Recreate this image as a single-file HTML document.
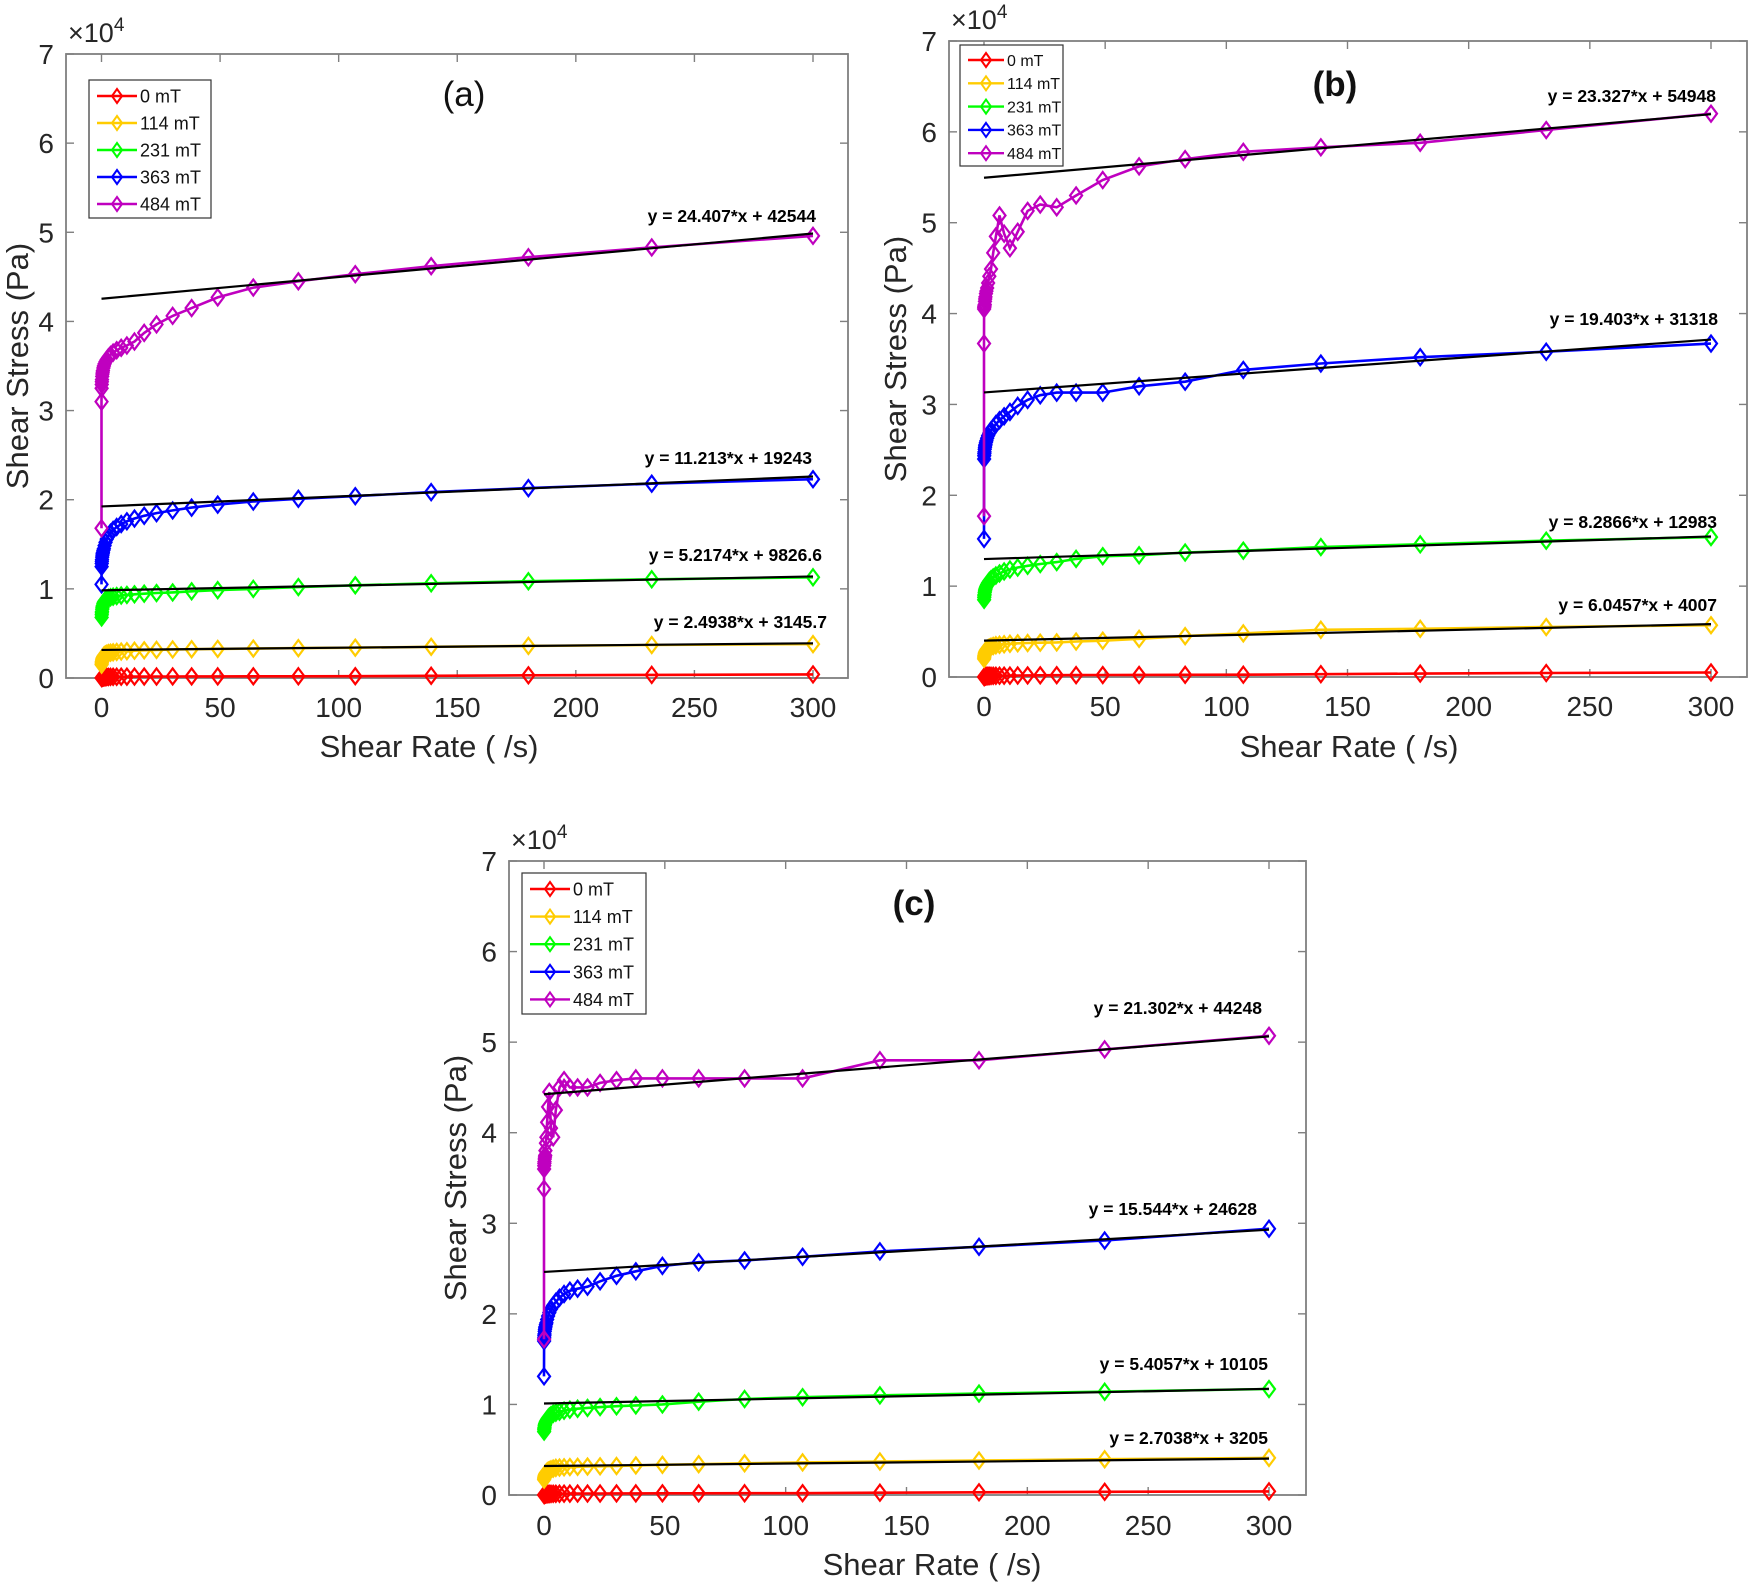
<!DOCTYPE html>
<html><head><meta charset="utf-8">
<style>
html,body{margin:0;padding:0;background:#fff;}
svg{display:block;font-family:"Liberation Sans",Arial,sans-serif;}
</style></head>
<body>
<svg id="s" width="1752" height="1585" viewBox="0 0 1752 1585" xmlns="http://www.w3.org/2000/svg"></svg>
<script>
var NS="http://www.w3.org/2000/svg";
var S=document.getElementById('s');
function el(t,a,p,txt){var e=document.createElementNS(NS,t);for(var k in a)e.setAttribute(k,a[k]);if(txt!==undefined)e.textContent=txt;(p||S).appendChild(e);return e;}
var COL=['#ff0000','#ffcc00','#00ff00','#0000ff','#bf00bf'];
var NAMES=['0 mT','114 mT','231 mT','363 mT','484 mT'];
var XS=[0.05,0.1,0.15,0.2,0.3,0.4,0.5,0.6,0.8,1,1.3,1.7,2.2,2.9,3.8,4.9,6.4,8.3,10.7,13.9,18,23.2,30,38,49,64,83,107,139,180,232,300];
function interp(keys,x){
  var lx=Math.log(x+0.05);
  if(x<=keys[0][0])return keys[0][1];
  for(var i=1;i<keys.length;i++){
    if(x<=keys[i][0]){var a=Math.log(keys[i-1][0]+0.05),b=Math.log(keys[i][0]+0.05);
      var t=(lx-a)/(b-a);return keys[i-1][1]+t*(keys[i][1]-keys[i-1][1]);}
  }
  return keys[keys.length-1][1];
}
function panel(P){
  var L=P.L,R=P.R,T=P.T,B=P.B,x0=P.x0,x300=P.x300;
  var sx=function(x){return x0+(x300-x0)*x/300;};
  var sy=function(y){return B-(B-T)*y/7;};
  var g=el('g',{});
  el('rect',{x:L,y:T,width:R-L,height:B-T,fill:'#fff',stroke:'#7f7f7f','stroke-width':1.8},g);
  for(var i=0;i<=6;i++){var x=sx(i*50);
    el('line',{x1:x,y1:B,x2:x,y2:B-8,stroke:'#7f7f7f','stroke-width':1.4},g);
    el('line',{x1:x,y1:T,x2:x,y2:T+8,stroke:'#7f7f7f','stroke-width':1.4},g);
    el('text',{x:x,y:P.tickY,'font-size':28,'text-anchor':'middle',fill:'#262626'},g,String(i*50));}
  for(var j=0;j<=7;j++){var y=sy(j);
    el('line',{x1:L,y1:y,x2:L+8,y2:y,stroke:'#7f7f7f','stroke-width':1.4},g);
    el('line',{x1:R,y1:y,x2:R-8,y2:y,stroke:'#7f7f7f','stroke-width':1.4},g);
    el('text',{x:L-12,y:y+10,'font-size':28,'text-anchor':'end',fill:'#262626'},g,String(j));}
  var m=el('text',{x:L+2,y:T-12,'font-size':27,fill:'#262626'},g,'\u00d710');
  el('tspan',{'font-size':19,dy:-11},m,'4');
  el('text',{x:0,y:0,'font-size':31,'text-anchor':'middle',fill:'#262626',transform:'translate('+P.ylx+','+((T+B)/2)+') rotate(-90)'},g,'Shear Stress (Pa)');
  el('text',{x:P.xlX,y:P.xlY,'font-size':31,'text-anchor':'middle',fill:'#262626'},g,'Shear Rate ( /s)');
  el('text',{x:P.tx,y:P.ty,'font-size':35,'text-anchor':'middle','font-weight':P.tb?'bold':'normal',fill:'#111'},g,P.title);
  P.series.forEach(function(sr,k){
    var pts=[];
    (sr.pre||[]).forEach(function(v){pts.push([sx(0.02),sy(v)]);});
    XS.forEach(function(x){pts.push([sx(x),sy(interp(sr.k,x))]);});
    el('polyline',{points:pts.map(function(p){return p[0].toFixed(1)+','+p[1].toFixed(1);}).join(' '),fill:'none',stroke:COL[k],'stroke-width':2.6},g);
    var hw=6,hh=8;
    pts.forEach(function(p){
      el('polygon',{points:(p[0])+','+(p[1]-hh)+' '+(p[0]+hw)+','+p[1]+' '+p[0]+','+(p[1]+hh)+' '+(p[0]-hw)+','+p[1],fill:'none',stroke:COL[k],'stroke-width':2.2},g);
    });
  });
  P.fits.forEach(function(f){
    var y0=f[1]/1e4,y1=(f[0]*300+f[1])/1e4;
    el('line',{x1:sx(0),y1:sy(y0),x2:sx(300),y2:sy(y1),stroke:'#000','stroke-width':2.2},g);
    el('text',{x:f[3],y:f[4],'font-size':17.5,'font-weight':'bold','text-anchor':'end',fill:'#000'},g,f[2]);
  });
  var lg=P.leg;
  el('rect',{x:lg.x,y:lg.y,width:lg.w,height:lg.h,fill:'#fff',stroke:'#333','stroke-width':1.2},g);
  for(var q=0;q<5;q++){var yy=lg.r0+q*lg.dr;
    el('line',{x1:lg.x+8,y1:yy,x2:lg.x+lg.ll,y2:yy,stroke:COL[q],'stroke-width':2.4},g);
    var cx=lg.x+8+(lg.ll-8)/2;
    el('polygon',{points:cx+','+(yy-7)+' '+(cx+5)+','+yy+' '+cx+','+(yy+7)+' '+(cx-5)+','+yy,fill:'none',stroke:COL[q],'stroke-width':2},g);
    el('text',{x:lg.x+lg.ll+3,y:yy+lg.fs*0.36,'font-size':lg.fs,fill:'#111'},g,NAMES[q]);}
}
panel({L:66,R:848,T:54,B:678,x0:101.5,x300:813,tickY:717,xlY:757,xlX:429,ylx:28,tx:464,ty:106,title:'(a)',tb:false,
 leg:{x:89,y:80,w:122,h:138,r0:96,dr:27,ll:48,fs:18},
 series:[
  {k:[[0.05,0.0],[1,0.01],[10,0.015],[107,0.02],[300,0.04]]},
  {k:[[0.05,0.15],[1,0.25],[3,0.28],[10,0.3],[30,0.32],[64,0.33],[107,0.34],[300,0.38]]},
  {k:[[0.05,0.68],[1,0.85],[3,0.9],[10,0.93],[30,0.96],[64,1.0],[107,1.04],[300,1.13]]},
  {pre:[1.05],k:[[0.05,1.25],[1,1.45],[3,1.6],[10,1.75],[30,1.88],[64,1.98],[107,2.04],[180,2.13],[300,2.23]]},
  {pre:[1.68,3.1],k:[[0.05,3.25],[1,3.5],[3,3.6],[13,3.75],[29,4.05],[38,4.15],[49,4.27],[64,4.38],[83,4.45],[107,4.53],[139,4.62],[180,4.72],[232,4.83],[300,4.96]]}
 ],
 fits:[[24.407,42544,'y = 24.407*x + 42544',816,222],[11.213,19243,'y = 11.213*x + 19243',812,464],[5.2174,9826.6,'y = 5.2174*x + 9826.6',822,561],[2.4938,3145.7,'y = 2.4938*x + 3145.7',827,628]]
});
panel({L:949,R:1747,T:41,B:677,x0:984,x300:1711,tickY:716,xlY:757,xlX:1349,ylx:906,tx:1335,ty:96,title:'(b)',tb:true,
 leg:{x:960,y:45,w:103,h:121,r0:60,dr:23.3,ll:44,fs:16},
 series:[
  {k:[[0.05,0.0],[1,0.01],[10,0.015],[107,0.025],[300,0.05]]},
  {k:[[0.05,0.2],[1,0.3],[5,0.35],[13,0.37],[29,0.38],[49,0.4],[64,0.42],[83,0.45],[107,0.48],[139,0.52],[180,0.53],[232,0.55],[300,0.57]]},
  {k:[[0.05,0.85],[1,1.0],[4,1.1],[13,1.2],[29,1.26],[38,1.3],[49,1.33],[64,1.34],[83,1.37],[107,1.39],[139,1.43],[180,1.46],[232,1.5],[300,1.54]]},
  {pre:[1.52],k:[[0.05,2.4],[1,2.6],[4,2.75],[10,2.9],[18,3.05],[23,3.1],[29,3.13],[49,3.13],[64,3.2],[83,3.25],[107,3.38],[139,3.45],[180,3.52],[232,3.58],[300,3.67]]},
  {pre:[1.77,3.67],k:[[0.05,4.05],[0.3,4.1],[1.5,4.3],[3,4.5],[4.9,4.85],[6.4,5.08],[8.3,4.88],[10.7,4.72],[13.9,4.9],[18,5.13],[23.2,5.2],[30,5.17],[38,5.3],[49,5.47],[64,5.62],[83,5.7],[107,5.78],[139,5.83],[180,5.88],[232,6.02],[300,6.2]]}
 ],
 fits:[[23.327,54948,'y = 23.327*x + 54948',1716,102],[19.403,31318,'y = 19.403*x + 31318',1718,325],[8.2866,12983,'y = 8.2866*x + 12983',1717,528],[6.0457,4007,'y = 6.0457*x + 4007',1717,611]]
});
panel({L:509,R:1306,T:861,B:1495,x0:544,x300:1269,tickY:1535,xlY:1575,xlX:932,ylx:466,tx:914,ty:915,title:'(c)',tb:true,
 leg:{x:522,y:873,w:124,h:141,r0:889,dr:27.6,ll:48,fs:18},
 series:[
  {k:[[0.05,0.0],[1,0.01],[10,0.015],[107,0.02],[300,0.04]]},
  {k:[[0.05,0.17],[1,0.25],[5,0.3],[30,0.32],[64,0.34],[107,0.36],[180,0.38],[300,0.41]]},
  {k:[[0.05,0.7],[1,0.82],[4,0.9],[13,0.95],[30,0.98],[49,1.0],[64,1.03],[83,1.06],[107,1.08],[139,1.1],[180,1.12],[232,1.14],[300,1.17]]},
  {pre:[1.31],k:[[0.05,1.7],[1,1.9],[4,2.1],[10,2.25],[18,2.3],[30,2.42],[38,2.47],[49,2.53],[64,2.57],[83,2.59],[107,2.63],[139,2.69],[180,2.74],[232,2.81],[300,2.94]]},
  {pre:[1.72,3.38],k:[[0.05,3.6],[0.5,3.75],[1,3.95],[2.2,4.45],[2.9,4.05],[3.8,3.95],[4.9,4.25],[6.4,4.5],[8.3,4.58],[10.7,4.5],[18,4.5],[23.2,4.55],[30,4.58],[38,4.6],[107,4.6],[139,4.8],[180,4.8],[232,4.92],[300,5.07]]}
 ],
 fits:[[21.302,44248,'y = 21.302*x + 44248',1262,1014],[15.544,24628,'y = 15.544*x + 24628',1257,1215],[5.4057,10105,'y = 5.4057*x + 10105',1268,1370],[2.7038,3205,'y = 2.7038*x + 3205',1268,1444]]
});
</script>
</body></html>
